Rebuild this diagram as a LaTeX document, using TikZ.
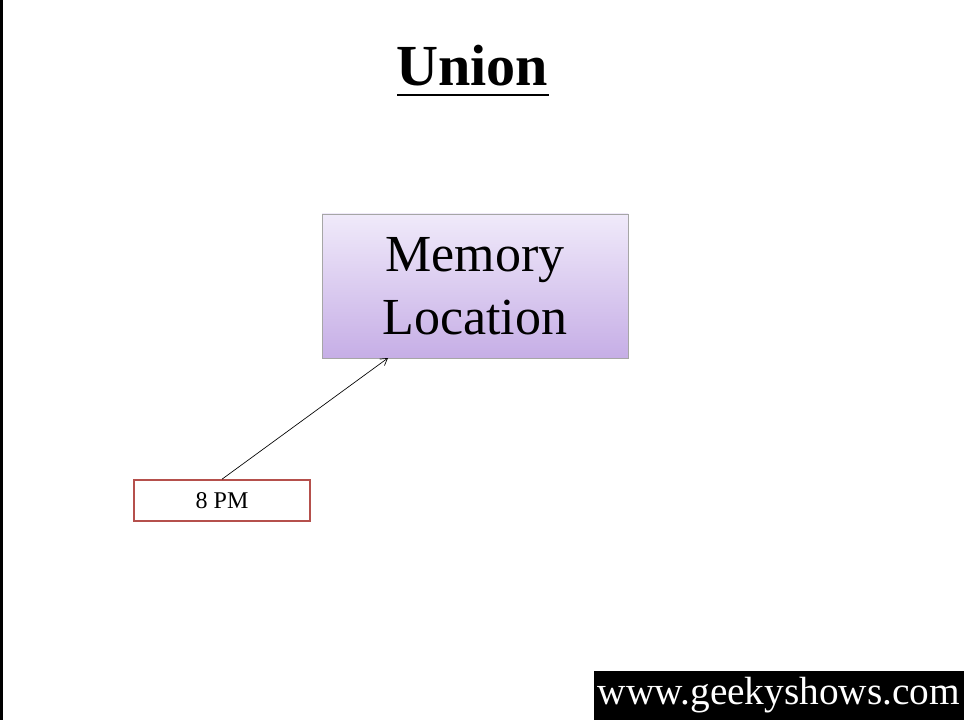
\documentclass[tikz,border=0pt]{standalone}
\usepackage{fontspec}
\setmainfont{Liberation Serif}
\usetikzlibrary{arrows.meta}
\definecolor{boxtop}{HTML}{F0EAFA}
\definecolor{boxbot}{HTML}{C6AEE6}
\definecolor{redb}{HTML}{B5504C}
\tikzset{px/.style={x=0.75pt,y=-0.75pt}}
\begin{document}
\begin{tikzpicture}[px]
\useasboundingbox (0,0) rectangle (964,720);
\fill[white] (0,0) rectangle (964,720);
\fill[black] (0,0) rectangle (3,720);
\node[font=\bfseries\fontsize{43.6}{48}\selectfont, inner sep=0pt] (title) at (472,66) {Union};
\draw[line width=2.2pt] (397,95) -- (549,95);
\shade[top color=boxtop, bottom color=boxbot] (322,214) rectangle (628,358);
\node[draw=gray!70, minimum width=229.5pt, minimum height=108pt, inner sep=0pt, align=center,
  font=\fontsize{39}{47}\selectfont] (mem) at (475,286) {Memory\\Location};
\node[draw=redb, line width=1.2pt, minimum width=132pt, minimum height=30.75pt, inner sep=0pt,
  font=\fontsize{18}{20}\selectfont] (pm) at (222,500.5) {8 PM};
\coordinate (tip) at (388,358);
\draw[-{Straight Barb[length=5pt,width=6pt]}, line width=0.5pt] (pm.north) -- (tip);
\node[fill=black, text=white, minimum width=277.5pt, minimum height=36.75pt, inner sep=0pt,
  font=\fontsize{29.5}{31}\selectfont] (web) at (779,695.5) {www.geekyshows.com};
\end{tikzpicture}
\end{document}
